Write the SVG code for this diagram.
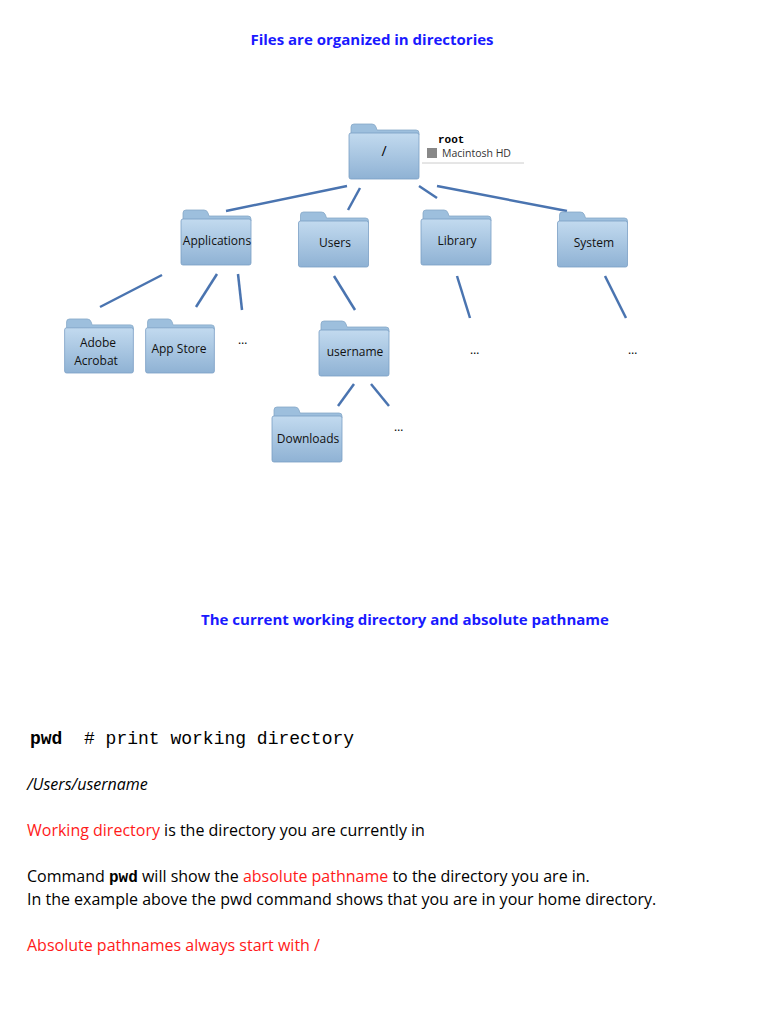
<svg xmlns="http://www.w3.org/2000/svg" width="768" height="1024" viewBox="0 0 768 1024">
<style>
.t{font-family:"Open Sans","Liberation Sans",sans-serif}
.h{font-size:15px;font-weight:bold;fill:#1a1aff;text-anchor:middle}
.fl{font-size:12px;fill:#111;text-anchor:middle}
.c line{stroke:#4a74b0;stroke-width:2.5}
.b{font-size:16px;fill:#000}
.r{fill:#ff1a1a}
.m{font-family:"Liberation Mono","DejaVu Sans Mono",monospace}
</style>
<defs>
<linearGradient id="g" x1="0" y1="0" x2="0" y2="1">
<stop offset="0" stop-color="#c2daef"/><stop offset="1" stop-color="#8fb2d4"/>
</linearGradient>
<symbol id="f" viewBox="0 0 72 57">
<path d="M3 12 V4 Q3 1 6 1 H24 Q27 1 28 4 L29 7 H68 Q71 7 71 10 V12 Z" fill="#9dbfdd" stroke="#86a8c8" stroke-width="0.8"/>
<rect x="1" y="10" width="70" height="46" rx="2" fill="url(#g)" stroke="#7a9ec4" stroke-width="0.8"/>
</symbol>
</defs>
<text class="t h" x="372" y="45">Files are organized in directories</text>
<g class="c">
<line x1="347" y1="186" x2="226" y2="211"/><line x1="360" y1="188" x2="348" y2="210"/>
<line x1="419" y1="186" x2="437" y2="198"/><line x1="437" y1="186" x2="567" y2="211"/>
<line x1="162" y1="275" x2="100" y2="307"/><line x1="217" y1="274" x2="196" y2="307"/>
<line x1="238" y1="274" x2="242" y2="310"/><line x1="334" y1="276" x2="355" y2="310"/>
<line x1="457" y1="276" x2="470" y2="318"/><line x1="605" y1="276" x2="626" y2="318"/>
<line x1="354" y1="384" x2="338" y2="406"/><line x1="371" y1="384" x2="389" y2="406"/>
</g>
<g id="root"><use href="#f" x="348" y="123" width="72" height="57"/>
<text class="t" x="384" y="156" font-size="14" text-anchor="middle">/</text>
<text x="438" y="143" class="m" font-size="11" font-weight="bold">root</text>
<rect x="427" y="148" width="10" height="10" fill="#888"/>
<text class="t" x="442" y="157" font-size="10.5" fill="#333">Macintosh HD</text>
<line x1="422" y1="163" x2="524" y2="163" stroke="#ccc"/></g>
<g id="applications"><use href="#f" x="180" y="209" width="72" height="57"/><text class="t fl" x="217" y="245">Applications</text></g>
<g id="users"><use href="#f" x="297" y="211" width="73" height="57"/><text class="t fl" x="335" y="247">Users</text></g>
<g id="library"><use href="#f" x="420" y="209" width="72" height="57"/><text class="t fl" x="457" y="245">Library</text></g>
<g id="system"><use href="#f" x="556" y="211" width="73" height="57"/><text class="t fl" x="594" y="247">System</text></g>
<g id="adobe"><use href="#f" x="62" y="318" width="74" height="56"/><text class="t fl" x="98" y="347">Adobe</text><text class="t fl" x="96" y="365">Acrobat</text></g>
<g id="appstore"><use href="#f" x="144" y="318" width="72" height="56"/><text class="t fl" x="179" y="353">App Store</text></g>
<g id="username"><use href="#f" x="318" y="320" width="72" height="57"/><text class="t fl" x="355" y="356">username</text></g>
<g id="downloads"><use href="#f" x="271" y="406" width="72" height="57"/><text class="t fl" x="308" y="443">Downloads</text></g>
<g class="t" font-size="12"><text x="238" y="344">…</text><text x="470" y="354">…</text><text x="628" y="354">…</text><text x="394" y="431">…</text></g>
<text class="t h" x="405" y="625">The current working directory and absolute pathname</text>
<text x="30" y="744" class="m" font-size="18" xml:space="preserve"><tspan font-weight="bold">pwd</tspan>  # print working directory</text>
<text class="t b" x="27" y="790" font-style="italic">/Users/username</text>
<text class="t b" x="27" y="836"><tspan class="r">Working directory</tspan> is the directory you are currently in</text>
<text class="t b" x="27" y="882">Command <tspan class="m" font-weight="bold">pwd</tspan> will show the <tspan class="r">absolute pathname</tspan> to the directory you are in.</text>
<text class="t b" x="27" y="905">In the example above the pwd command shows that you are in your home directory.</text>
<text class="t b r" x="27" y="951">Absolute pathnames always start with /</text>
</svg>
